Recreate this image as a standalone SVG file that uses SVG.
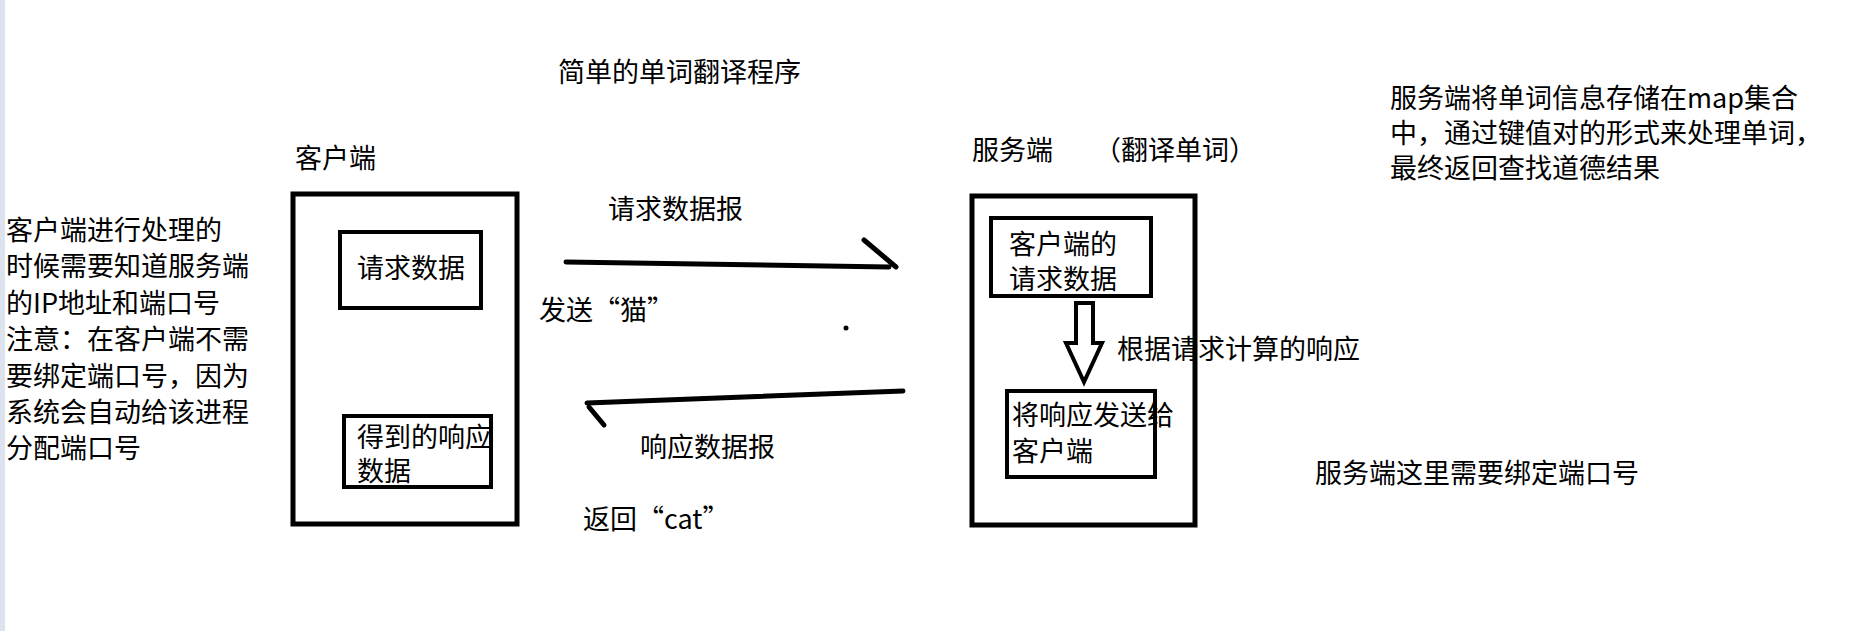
<svg xmlns="http://www.w3.org/2000/svg" width="1874" height="631" viewBox="0 0 1874 631">
<style>
text{font-family:"Noto Sans CJK SC","Liberation Serif",sans-serif;font-size:27px;fill:#000}
.box{fill:none;stroke:#000;stroke-width:5}
.in{fill:none;stroke:#000;stroke-width:4}
.ln{fill:none;stroke:#000;stroke-width:5;stroke-linecap:round}
</style>
<rect x="0" y="0" width="1874" height="631" fill="#fff"/>
<rect x="0" y="0" width="5" height="631" fill="#dde3ee"/>
<text x="558" y="82" font-size="29">简单的单词翻译程序</text>
<g id="left-note">
<text x="6" y="240">客户端进行处理的</text>
<text x="6" y="276">时候需要知道服务端</text>
<text x="6" y="313">的IP地址和端口号</text>
<text x="6" y="349">注意：在客户端不需</text>
<text x="6" y="386">要绑定端口号，因为</text>
<text x="6" y="422">系统会自动给该进程</text>
<text x="6" y="458">分配端口号</text>
</g>
<g id="client">
<text x="295" y="168">客户端</text>
<rect class="box" x="293" y="194" width="224" height="330"/>
<g id="client-req"><rect class="in" x="340" y="232" width="141" height="76"/><text x="357" y="278">请求数据</text></g>
<g id="client-resp"><rect class="in" x="344" y="416" width="147" height="71"/><text x="357" y="447">得到的响应</text><text x="357" y="481">数据</text></g>
</g>
<g id="server">
<text x="972" y="160">服务端</text>
<text x="1094" y="160">（翻译单词）</text>
<rect class="box" x="972" y="196" width="223" height="329"/>
<g id="server-req"><rect class="in" x="991" y="218" width="160" height="78"/><text x="1009" y="254">客户端的</text><text x="1009" y="289">请求数据</text></g>
<g id="server-resp"><rect class="in" x="1007" y="391" width="148" height="86"/><text x="1012" y="425">将响应发送给</text><text x="1012" y="461">客户端</text></g>
<path d="M1076 303 H1093 V343 H1102 L1084 382 L1066 343 H1076 Z" fill="#fff" stroke="#000" stroke-width="4"/>
</g>
<g id="connectors">
<path class="ln" d="M566 262 L889 267"/>
<path class="ln" d="M864 240 L896 267"/>
<path class="ln" d="M903 391 L587 403"/>
<path class="ln" d="M589 407 L604 425"/>
<circle cx="846" cy="328" r="2.5" fill="#000"/>
</g>
<text x="608" y="219">请求数据报</text>
<text x="539" y="320">发送“猫”</text>
<text x="640" y="457">响应数据报</text>
<text x="583" y="529">返回“cat”</text>
<text x="1117" y="359">根据请求计算的响应</text>
<g id="right-note">
<text x="1390" y="108">服务端将单词信息存储在map集合</text>
<text x="1390" y="143">中，通过键值对的形式来处理单词，</text>
<text x="1390" y="178">最终返回查找道德结果</text>
</g>
<text x="1315" y="483">服务端这里需要绑定端口号</text>
</svg>
